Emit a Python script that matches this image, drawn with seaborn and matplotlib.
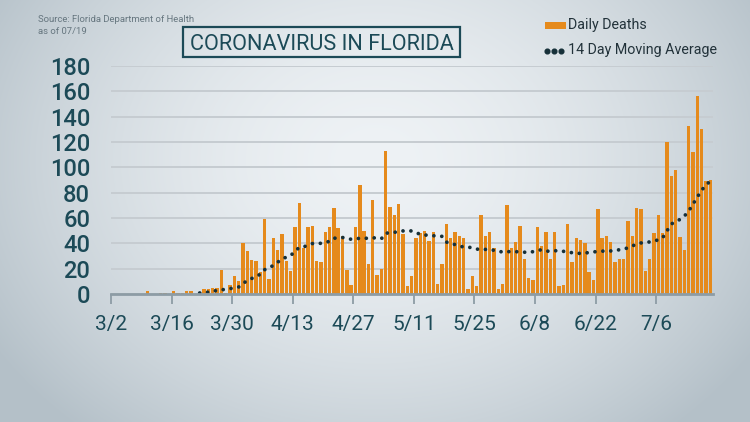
import numpy as np
import pandas as pd
import matplotlib
matplotlib.use("Agg")
import matplotlib.pyplot as plt
import seaborn as sns
from matplotlib.patches import Rectangle
from matplotlib.lines import Line2D

# ---------------- data ----------------
# daily deaths, one value per day from 3/2 to 7/18
deaths = [0, 0, 0, 0, 0, 0, 0, 0, 2, 0,
          0, 1, 1, 0, 2, 1, 1, 2, 2, 0,
          0, 4, 4, 5, 5, 19, 1, 7, 14, 10,
          40, 34, 27, 26, 17, 59, 12, 44, 35, 47,
          26, 18, 53, 72, 36, 53, 54, 26, 25, 49,
          53, 68, 52, 46, 19, 7, 53, 86, 50, 24,
          74, 15, 20, 113, 69, 62, 71, 47, 6, 14,
          44, 48, 50, 42, 49, 8, 24, 55, 44, 49,
          46, 44, 4, 14, 6, 62, 46, 49, 36, 4,
          8, 70, 36, 41, 54, 28, 13, 11, 53, 38,
          49, 28, 49, 6, 7, 55, 25, 44, 43, 40,
          17, 11, 67, 44, 46, 41, 25, 28, 28, 58,
          46, 68, 67, 18, 28, 48, 62, 48, 120, 93,
          98, 45, 35, 133, 112, 156, 130, 89, 90]

# 14 day moving average as drawn, starting at day index 20 (3/22)
ma_start = 20
moving_avg = [0.8, 1.0, 1.5, 2.2, 2.8, 3.3, 3.7, 4.2, 4.9, 5.5,
              8.4, 10.5, 12.2, 14.0, 15.5, 19.2, 20.5, 22.6, 25.0, 27.8,
              29.0, 30.3, 33.6, 36.8, 37.2, 38.5, 39.8, 40.0, 40.0, 40.8,
              41.5, 44.0, 44.3, 44.6, 44.0, 43.2, 43.5, 44.0, 44.0, 44.0,
              44.3, 44.3, 43.7, 48.0, 48.3, 48.7, 49.3, 49.8, 49.8, 49.8,
              48.5, 47.0, 46.6, 46.3, 46.0, 45.8, 45.5, 41.0, 40.0, 39.0,
              38.0, 37.0, 37.0, 36.5, 35.5, 35.0, 35.2, 35.0, 34.5, 34.0,
              33.0, 33.3, 33.6, 33.4, 33.3, 33.0, 32.8, 33.4, 34.2, 35.0,
              34.0, 33.6, 34.2, 34.0, 33.7, 33.3, 32.6, 32.3, 32.0, 32.3,
              32.8, 33.2, 33.6, 33.8, 34.0, 34.0, 34.2, 35.0, 35.6, 36.4,
              38.0, 39.4, 40.3, 40.8, 41.1, 41.8, 42.8, 44.5, 50.0, 55.2,
              57.5, 58.8, 61.5, 65.5, 71.0, 76.5, 82.0, 86.0, 89.2]

tick_labels = ["3/2", "3/16", "3/30", "4/13", "4/27", "5/11", "5/25", "6/8", "6/22", "7/6"]
tick_days = [0, 14, 28, 42, 56, 70, 84, 98, 112, 126]
y_ticks = [0, 20, 40, 60, 80, 100, 120, 140, 160, 180]

title = "CORONAVIRUS IN FLORIDA"
source_lines = ["Source: Florida Department of Health", "as of 07/19"]
legend_labels = ["Daily Deaths", "14 Day Moving Average"]

# ---------------- style ----------------
sns.set_theme(style="white")
plt.rcParams['font.family'] = ['Roboto', 'DejaVu Sans']

BAR = '#E58A1C'
DOT = '#163039'
TEAL = '#1c4a57'
AXIS = '#8d9ca5'

W, H = 750, 422
fig = plt.figure(figsize=(7.5, 4.22), dpi=100)

# background gradient
bg = fig.add_axes([0, 0, 1, 1])
bg.axis('off')
yy, xx = np.mgrid[0:H, 0:W]
cx, cy = 0.50 * W, 0.38 * H
r = np.sqrt(((xx - cx) / (0.60 * W)) ** 2 + ((yy - cy) / (0.85 * H)) ** 2)
t = np.clip(r, 0, 1) ** 1.7
c_in = np.array([0xee, 0xf2, 0xf5]) / 255
c_out = np.array([0xb4, 0xc0, 0xc8]) / 255
img = c_in[None, None, :] * (1 - t[..., None]) + c_out[None, None, :] * t[..., None]
bg.imshow(img, aspect='auto', extent=[0, 1, 0, 1], origin='upper')
bg.set_xlim(0, 1)
bg.set_ylim(0, 1)

def fx(x):
    return x / W

def fy(y):
    return 1 - y / H

# main axes
ax = fig.add_axes([fx(111), fy(294), (712.5 - 111) / W, (294 - 66) / H])
ax.patch.set_alpha(0)

df = pd.DataFrame({'day': np.arange(len(deaths)), 'deaths': deaths})
sns.barplot(data=df, x='day', y='deaths', native_scale=True, color=BAR,
            saturation=1, width=0.78, errorbar=None, edgecolor='none', ax=ax, zorder=2)

dfm = pd.DataFrame({'day': np.arange(ma_start, ma_start + len(moving_avg)), 'ma': moving_avg})
sns.lineplot(data=dfm, x='day', y='ma', ax=ax, color=DOT, lw=2.7,
             linestyle=(0, (0.01, 2.1)), dash_capstyle='round', zorder=3)

ax.set_xlim(-0.5, len(deaths) - 0.5)
ax.set_ylim(0, 180)
ax.set_xlabel('')
ax.set_ylabel('')

ax.set_xticks([d - 0.5 for d in tick_days])
ax.set_xticklabels(tick_labels)
ax.set_yticks(y_ticks)
ax.set_yticklabels([str(v) for v in y_ticks], fontweight='medium')
ax.tick_params(axis='x', length=7, width=1.3, color=AXIS, pad=8,
               labelsize=15, labelcolor=TEAL, bottom=True)
ax.tick_params(axis='y', length=0, pad=15, labelsize=17, labelcolor=TEAL)

for s in ['top', 'right', 'left']:
    ax.spines[s].set_visible(False)
ax.spines['bottom'].set_color(AXIS)
ax.spines['bottom'].set_linewidth(2)
ax.spines['bottom'].set_zorder(4)
ax.yaxis.grid(True, color='#c6ccd1', lw=1.4)
ax.xaxis.grid(False)
ax.set_axisbelow(True)

# title box
fig.add_artist(Rectangle((fx(183), fy(57)), 277 / W, 30 / H, transform=fig.transFigure,
                         fill=False, ec=TEAL, lw=1.6))
fig.text(fx(321.5), fy(44), title, ha='center', va='center', fontsize=15.6,
         color=TEAL)

# source
fig.text(fx(38), fy(20), source_lines[0], ha='left', va='center', fontsize=6.8, color='#66767f')
fig.text(fx(38), fy(32), source_lines[1], ha='left', va='center', fontsize=6.8, color='#66767f')

# legend
fig.add_artist(Rectangle((fx(545), fy(28.5)), 21 / W, 7 / H, transform=fig.transFigure,
                         fc=BAR, ec='none'))
fig.text(fx(568), fy(25), legend_labels[0], ha='left', va='center', fontsize=10.3, color='#22323a')
fig.add_artist(Line2D([fx(546.5), fx(553.5), fx(560.5)], [fy(51)] * 3, transform=fig.transFigure,
                      ls='none', marker='o', ms=3.4, color=DOT))
fig.text(fx(568), fy(50), legend_labels[1], ha='left', va='center', fontsize=10.3, color='#22323a')

fig.savefig('out.png', dpi=100)
